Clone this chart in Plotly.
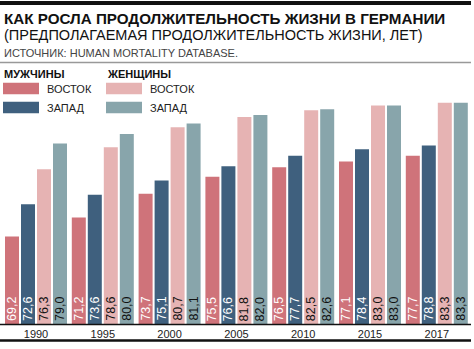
import plotly.graph_objects as go

years = ["1990", "1995", "2000", "2005", "2010", "2015", "2017"]
east_men = [69.2, 71.2, 73.7, 75.5, 76.5, 77.1, 77.7]
west_men = [72.6, 73.6, 75.1, 76.6, 77.7, 78.4, 78.8]
east_women = [76.3, 78.6, 80.7, 81.8, 82.5, 83.0, 83.3]
west_women = [79.0, 80.0, 81.1, 82.0, 82.6, 83.0, 83.3]

series = [
    ("Мужчины, восток", east_men, "#cf737a", "white"),
    ("Мужчины, запад", west_men, "#3f607e", "white"),
    ("Женщины, восток", east_women, "#e6b3b3", "#111111"),
    ("Женщины, запад", west_women, "#88a5ab", "#111111"),
]

W, H = 474, 349
FONT = "Liberation Sans"
Y0 = 60


def px(x):
    return x / W


def py(y):
    return (H - y) / H


fig = go.Figure()
annotations = []
offsets = [-24, -8, 8, 24]
for (name, vals, col, tcol), off in zip(series, offsets):
    fig.add_trace(go.Bar(
        x=years, y=vals, name=name, marker=dict(color=col, line=dict(width=0)),
        showlegend=False, hoverinfo="skip",
    ))
    for i, v in enumerate(vals):
        annotations.append(dict(
            text=f"{v:.1f}".replace(".", ","), x=i, y=Y0, xref="x", yref="y",
            xanchor="center", yanchor="bottom", textangle=-90, xshift=off, yshift=1,
            showarrow=False, font=dict(size=12.5, color=tcol, family=FONT),
        ))

shapes = [
    dict(type="line", xref="paper", yref="paper", x0=0, x1=px(471), y0=py(3), y1=py(3),
         line=dict(color="#111111", width=4)),
    dict(type="line", xref="paper", yref="paper", x0=0, x1=px(471), y0=py(62.5), y1=py(62.5),
         line=dict(color="#999999", width=1.5)),
    dict(type="line", xref="paper", yref="paper", x0=0, x1=px(471), y0=py(324.5), y1=py(324.5),
         line=dict(color="#111111", width=1.5)),
    dict(type="line", xref="paper", yref="paper", x0=0, x1=px(471), y0=py(340.5), y1=py(340.5),
         line=dict(color="#111111", width=2.5)),
]

head = [
    dict(text="<b>КАК РОСЛА ПРОДОЛЖИТЕЛЬНОСТЬ ЖИЗНИ В ГЕРМАНИИ</b>", x=px(2), y=py(18),
         font=dict(size=15.2, color="#111111", family=FONT)),
    dict(text="(ПРЕДПОЛАГАЕМАЯ ПРОДОЛЖИТЕЛЬНОСТЬ ЖИЗНИ, ЛЕТ)", x=px(2), y=py(35),
         font=dict(size=14.5, color="#111111", family=FONT)),
    dict(text="ИСТОЧНИК: HUMAN MORTALITY DATABASE.", x=px(2), y=py(53),
         font=dict(size=11, color="#444444", family=FONT)),
    dict(text="<b>МУЖЧИНЫ</b>", x=px(2), y=py(73.5), font=dict(size=11, color="#111111", family=FONT)),
    dict(text="<b>ЖЕНЩИНЫ</b>", x=px(105), y=py(73.5), font=dict(size=11, color="#111111", family=FONT)),
]

legend_pos = [(3, 88.5, "ВОСТОК"), (3, 107.5, "ЗАПАД"), (106, 88.5, "ВОСТОК"), (106, 107.5, "ЗАПАД")]
for (lx, ly, lab), (_, _, col, _) in zip(legend_pos, series):
    shapes.append(dict(type="rect", xref="paper", yref="paper", x0=px(lx), x1=px(lx + 36),
                       y0=py(ly - 5.8), y1=py(ly + 5.8), fillcolor=col, line=dict(width=0)))
    head.append(dict(text=lab, x=px(lx + 42), y=py(ly),
                     font=dict(size=11, color="#222222", family=FONT)))

for a in head:
    a.update(xref="paper", yref="paper", xanchor="left", yanchor="middle", showarrow=False)

fig.update_layout(
    width=W, height=H, margin=dict(l=0, r=0, t=0, b=0),
    paper_bgcolor="white", plot_bgcolor="white",
    barmode="group", bargap=0.042, bargroupgap=0.125,
    font=dict(family=FONT, color="#222222"),
    xaxis=dict(type="category", domain=[px(2.6), px(470.2)], showgrid=False, showline=False, ticks="",
               ticklabelstandoff=2,
               tickfont=dict(size=11, color="#222222", family=FONT), fixedrange=True),
    yaxis=dict(domain=[py(324), py(324 - 25 * 9.5)], range=[Y0, 85], visible=False, fixedrange=True),
    shapes=shapes, annotations=annotations + head,
)

fig.write_html("out.html")
